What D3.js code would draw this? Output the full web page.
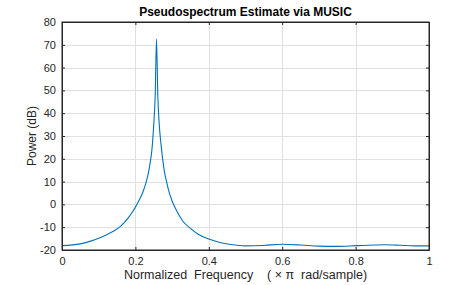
<!DOCTYPE html>
<html>
<head>
<meta charset="utf-8">
<script src="https://cdn.jsdelivr.net/npm/d3@7"></script>
<style>
  body { margin: 0; background: #fff; }
  svg { display: block; font-family: "Liberation Sans", Arial, sans-serif; }
</style>
</head>
<body>
<svg id="chart" width="474" height="285"></svg>
<script>
// normalized frequency (x pi rad/sample) and pseudospectrum (dB)
const freq = [0, 0.05, 0.08, 0.10, 0.12, 0.14, 0.16, 0.18, 0.19, 0.20, 0.21, 0.22, 0.23, 0.235,
  0.24, 0.245, 0.25, 0.254, 0.2575, 0.261, 0.265, 0.27, 0.275, 0.28, 0.285, 0.29, 0.30, 0.31,
  0.32, 0.33, 0.35, 0.37, 0.40, 0.43, 0.46, 0.50, 0.55, 0.60, 0.65, 0.70, 0.75, 0.80, 0.85,
  0.88, 0.92, 0.96, 1.00]
const power = [-18.1, -17.3, -16.0, -14.8, -13.4, -11.8, -9.5, -6.0, -3.8, -1.2, 1.8, 5.2, 10.2, 13.5,
  18, 24, 35, 48, 72.5, 48, 35, 26, 19, 13.5, 10, 6.5, 1.5, -2,
  -5, -7.5, -10.5, -13, -15.2, -16.7, -17.6, -18.2, -18.0, -17.5, -17.8, -18.3, -18.4, -18.1, -17.8,
  -17.7, -17.9, -18.2, -18.2]
const xTicks = [0, 0.2, 0.4, 0.6, 0.8, 1]
const yTicks = [-20, -10, 0, 10, 20, 30, 40, 50, 60, 70, 80]

const svg = d3.select('#chart')
const margin = {left: 62, right: 45, top: 22, bottom: 35}
const width = 474, height = 285
const ink = '#262626'

const x = d3.scaleLinear().domain([0, 1]).range([margin.left, width - margin.right])
const y = d3.scaleLinear().domain([-20, 80]).range([height - margin.bottom, margin.top])

// grid
const grid = svg.append('g').attr('stroke', '#dfdfdf').attr('stroke-width', 1)
grid.selectAll('.gx').data(xTicks.slice(1, -1)).join('line')
  .attr('x1', d => Math.round(x(d)) + 0.5).attr('x2', d => Math.round(x(d)) + 0.5)
  .attr('y1', y(-20)).attr('y2', y(80))
grid.selectAll('.gy').data(yTicks.slice(1, -1)).join('line')
  .attr('y1', d => Math.round(y(d)) + 0.5).attr('y2', d => Math.round(y(d)) + 0.5)
  .attr('x1', x(0)).attr('x2', x(1))

// curve
const data = freq.map((f, i) => ({f, p: power[i]}))
svg.append('path')
  .datum(data)
  .attr('fill', 'none')
  .attr('stroke', '#0072BD')
  .attr('stroke-width', 1.1)
  .attr('d', d3.line().x(d => x(d.f)).y(d => y(d.p)).curve(d3.curveMonotoneX))

// axes with inward ticks
const fmtX = d => d === 0 || d === 1 ? String(d) : d.toFixed(1)
svg.append('g')
  .attr('transform', `translate(0, ${y(-20)})`)
  .call(d3.axisBottom(x).tickValues(xTicks).tickFormat(fmtX).tickSizeInner(-3).tickSizeOuter(0).tickPadding(7))
svg.append('g')
  .attr('transform', `translate(0, ${y(80)})`)
  .call(d3.axisTop(x).tickValues(xTicks).tickFormat('').tickSizeInner(-3).tickSizeOuter(0))
svg.append('g')
  .attr('transform', `translate(${x(0)}, 0)`)
  .call(d3.axisLeft(y).tickValues(yTicks).tickFormat(d => String(d)).tickSizeInner(-3).tickSizeOuter(0).tickPadding(6))
svg.append('g')
  .attr('transform', `translate(${x(1)}, 0)`)
  .call(d3.axisRight(y).tickValues(yTicks).tickFormat('').tickSizeInner(-3).tickSizeOuter(0))

svg.selectAll('.domain, .tick line').attr('stroke', ink)
svg.selectAll('.tick text').attr('fill', ink).attr('font-size', 11)
  .attr('font-family', '"Liberation Sans", Arial, sans-serif')

// box
svg.append('rect')
  .attr('x', x(0)).attr('y', y(80))
  .attr('width', x(1) - x(0)).attr('height', y(-20) - y(80))
  .attr('fill', 'none').attr('stroke', ink).attr('stroke-width', 1)

// labels
svg.append('text')
  .attr('x', (x(0) + x(1)) / 2).attr('y', 16)
  .attr('text-anchor', 'middle').attr('font-weight', 'bold').attr('font-size', 12)
  .attr('fill', '#000')
  .text('Pseudospectrum Estimate via MUSIC')

svg.append('text')
  .attr('x', (x(0) + x(1)) / 2).attr('y', 279)
  .attr('text-anchor', 'middle').attr('font-size', 12.5).attr('fill', ink)
  .attr('xml:space', 'preserve')
  .text('Normalized  Frequency    ( \u00d7 \u03c0  rad/sample)')

svg.append('text')
  .attr('transform', `translate(36, ${(y(-20) + y(80)) / 2}) rotate(-90)`)
  .attr('text-anchor', 'middle').attr('font-size', 12).attr('fill', ink)
  .text('Power (dB)')
</script>
</body>
</html>
